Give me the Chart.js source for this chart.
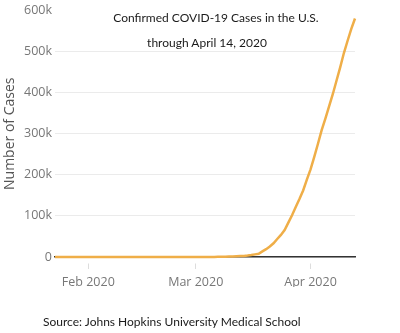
<!DOCTYPE html>
<html>
<head>
<meta charset="utf-8">
<script src="https://cdn.jsdelivr.net/npm/chart.js@4"></script>
<style>
  body { margin: 0; background: #fff; }
  #wrap { position: relative; width: 400px; height: 333px; }
  .note { position: absolute; font-family: Lato, "Open Sans", sans-serif; color: #1a1a1a; white-space: nowrap; font-size: 12px; }
  #title1 { left: 216px; top: 10px; transform: translateX(-50%); }
  #title2 { left: 207px; top: 35px; transform: translateX(-50%); }
  #source { left: 43px; top: 314px; }
</style>
</head>
<body>
<div id="wrap">
  <canvas id="chart" width="400" height="333"></canvas>
  <div class="note" id="title1">Confirmed COVID-19 Cases in the U.S.</div>
  <div class="note" id="title2">through April 14, 2020</div>
  <div class="note" id="source">Source: Johns Hopkins University Medical School</div>
</div>
<script>
// Daily cumulative cases, Jan 23 2020 (day 0) to Apr 13 2020 (day 81)
const cases = [
  // Jan 23 - Jan 31
  1, 2, 2, 5, 5, 5, 5, 5, 7,
  // Feb 1 - Feb 29
  8, 8, 11, 11, 11, 11, 11, 11, 11, 11, 12, 12, 13, 13, 13, 13, 13, 13, 13, 13,
  15, 15, 15, 51, 51, 57, 58, 60, 68,
  // Mar 1 - Mar 31
  74, 98, 118, 149, 217, 262, 402, 518, 583, 959, 1280, 1660, 2180, 2730, 3500,
  4630, 6420, 7790, 13700, 19100, 25500, 33300, 43800, 53700, 65800, 83800,
  101700, 121500, 140900, 161800, 188200,
  // Apr 1 - Apr 13
  213400, 243800, 275600, 308900, 337100, 366700, 396200, 429100, 461400,
  496500, 526400, 555300, 580600
];

const tickDays = [9, 38, 69];
const tickLabels = ['Feb 2020', 'Mar 2020', 'Apr 2020'];
const yTicks = [0, 100000, 200000, 300000, 400000, 500000, 600000];

const points = cases.map((v, i) => ({ x: i, y: v }));

new Chart(document.getElementById('chart'), {
  type: 'line',
  data: {
    datasets: [{
      data: points,
      borderColor: '#efae48',
      borderWidth: 2.5,
      pointRadius: 0,
      tension: 0,
      clip: 6
    }]
  },
  options: {
    responsive: false,
    animation: false,
    layout: { padding: { top: 7, right: 45, bottom: 46, left: 0 } },
    plugins: { legend: { display: false }, tooltip: { enabled: false } },
    scales: {
      x: {
        type: 'linear',
        min: 0,
        max: cases.length - 1,
        afterBuildTicks: axis => { axis.ticks = tickDays.map(v => ({ value: v })); },
        afterFit: axis => { axis.height = 30; },
        border: { display: true, color: '#333', width: 1.5 },
        grid: {
          drawOnChartArea: false,
          drawTicks: true,
          tickLength: 12,
          tickColor: '#ddd',
          tickBorderDash: [0, 6, 6]
        },
        ticks: {
          padding: 6,
          color: '#777',
          font: { family: 'Open Sans', size: 12.5 },
          maxRotation: 0,
          callback: v => tickLabels[tickDays.indexOf(v)]
        }
      },
      y: {
        min: 0,
        max: 600000,
        afterBuildTicks: axis => { axis.ticks = yTicks.map(v => ({ value: v })); },
        afterFit: axis => { axis.width = 55; },
        border: { display: false },
        grid: {
          drawTicks: false,
          color: ctx => (ctx.tick && ctx.tick.value === 600000) ? 'rgba(0,0,0,0)' : '#ebebeb'
        },
        ticks: {
          padding: 3,
          color: '#777',
          font: { family: 'Open Sans', size: 12.5 },
          callback: v => v === 0 ? '0' : (v / 1000) + 'k'
        },
        title: {
          display: true,
          text: 'Number of Cases',
          color: '#555',
          font: { family: 'Open Sans', size: 14 },
          padding: { top: 2, bottom: 0 }
        }
      }
    }
  }
});
</script>
</body>
</html>
